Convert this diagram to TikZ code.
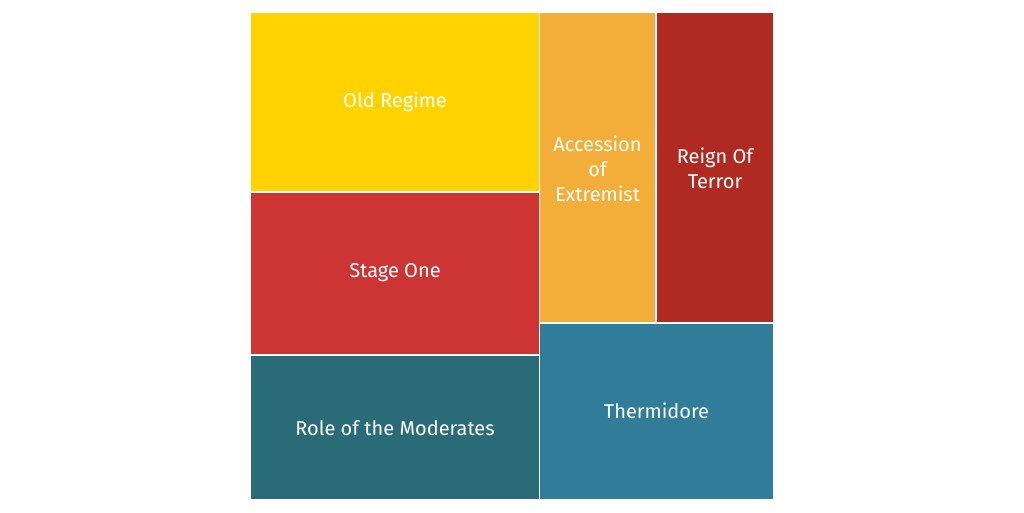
\documentclass[tikz,border=0pt]{standalone}
\usepackage{fontspec}
\setmainfont{Fira Sans}
\definecolor{cy}{HTML}{FFD200}
\definecolor{cr}{HTML}{CD3535}
\definecolor{ct}{HTML}{2A6B78}
\definecolor{co}{HTML}{F2AE38}
\definecolor{cd}{HTML}{B02A22}
\definecolor{cb}{HTML}{317D99}
\tikzset{tile/.style={draw=none,text=white,font=\fontsize{20}{25}\selectfont,align=center}}
\begin{document}
\begin{tikzpicture}[x=1pt,y=-1pt]
\useasboundingbox (0,0) rectangle (1024,512);
\fill[cy] (251,13) rectangle (539,191);
\fill[cr] (251,193) rectangle (539,354);
\fill[ct] (251,356) rectangle (539,499);
\fill[co] (540,13) rectangle (655,322);
\fill[cd] (657,13) rectangle (773,322);
\fill[cb] (540,324) rectangle (773,499);
\node[tile] (a) at (395,102) {Old Regime};
\node[tile] (b) at (395,273) {Stage One};
\node[tile] (c) at (395,428) {Role of the Moderates};
\node[tile] (d) at (597.5,169) {Accession\\of\\Extremist};
\node[tile] (e) at (715,168) {Reign Of\\Terror};
\node[tile] (f) at (656.5,411) {Thermidore};
\end{tikzpicture}
\end{document}
